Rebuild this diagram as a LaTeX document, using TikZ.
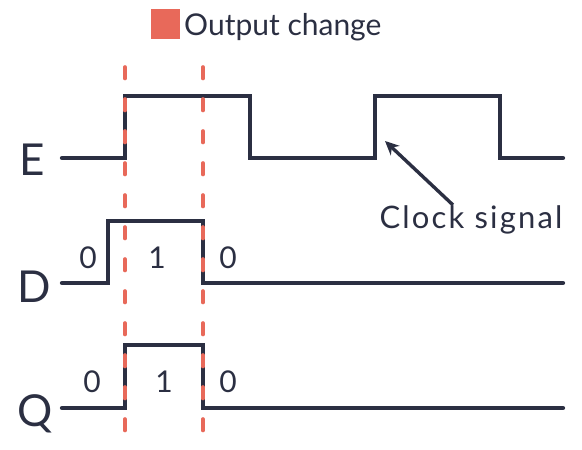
\documentclass[tikz,border=0pt]{standalone}
\usepackage{fontspec}
\setmainfont{Lato}
\usetikzlibrary{arrows.meta}
\definecolor{ink}{HTML}{2B2F42}
\definecolor{accent}{HTML}{E8695A}
\begin{document}
\begin{tikzpicture}[x=1pt,y=-1pt,
  wave/.style={draw=ink,line width=4.3pt,line cap=round,line join=miter},
  marker/.style={draw=accent,line width=3.6pt,line cap=round,dash pattern=on 11.5pt off 20.5pt},
  txt/.style={text=ink,font=\fontsize{30}{33}\selectfont,inner sep=0pt},
  big/.style={text=ink,font=\fontsize{44}{48}\selectfont,inner sep=0pt},
  pointer/.style={draw=ink,line width=3.4pt,-{Stealth[length=14pt,width=13pt]}}]
\useasboundingbox (0,0) rectangle (582,450);
% legend
\node[fill=accent,minimum width=29pt,minimum height=30pt,inner sep=0pt,anchor=north west] (key) at (151,9) {};
\node[txt,anchor=base west] (keytext) at (184,35) {Output change};
% E
\node[big,anchor=base west] (E) at (19,175) {E};
\path[wave] (62,158) -- (125,158) -- (125,96) -- (250,96) -- (250,158) -- (375,158) -- (375,96) -- (500,96) -- (500,158) -- (563,158);
% D
\node[big,anchor=base west] (D) at (17,302) {D};
\path[wave] (62,283) -- (108,283) -- (108,221) -- (203,221) -- (203,283) -- (563,283);
\node[txt,anchor=base] (d0) at (88,268) {0};
\node[txt,anchor=base] (d1) at (157,268) {1};
\node[txt,anchor=base] (d2) at (228,268) {0};
% Q
\node[big,anchor=base west] (Q) at (17,426) {Q};
\path[wave] (62,408) -- (125,408) -- (125,345) -- (203,345) -- (203,408) -- (563,408);
\node[txt,anchor=base] (q0) at (92,392) {0};
\node[txt,anchor=base] (q1) at (164,392) {1};
\node[txt,anchor=base] (q2) at (228,392) {0};
% clock signal
\node[txt,font=\fontsize{31}{34}\selectfont\addfontfeatures{LetterSpace=7},anchor=base] (clk) at (471,228) {Clock signal};
\coordinate (edge) at (385,141);
\draw[pointer] (453,205) -- (edge);
% output change markers
\path[marker] (125,67) -- (125,435);
\path[marker] (203,67) -- (203,435);
\end{tikzpicture}
\end{document}
